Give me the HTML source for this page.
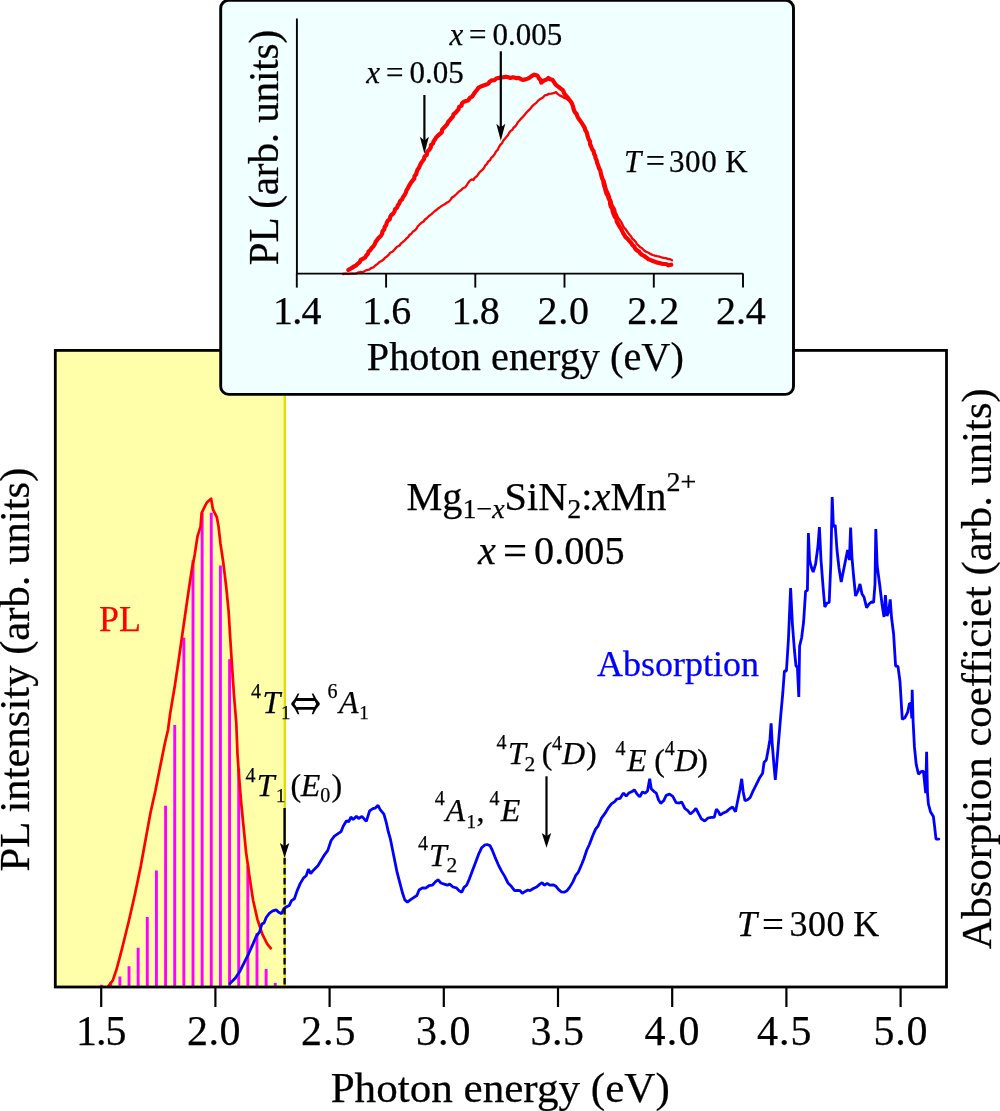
<!DOCTYPE html>
<html lang="en"><head><meta charset="utf-8"><title>PL and absorption spectra of Mg1-xSiN2:xMn2+</title>
<style>
html,body{margin:0;padding:0;background:#fff}
svg{display:block}
text{font-family:'Liberation Serif','Times New Roman',Times,serif;fill:#000;stroke:#000;stroke-width:0.25px}
.r{fill:#f00;stroke:#f00}.b{fill:#00f;stroke:#00f}
.i{font-style:italic}
</style></head><body>
<svg width="1000" height="1111" viewBox="0 0 1000 1111">
<rect width="1000" height="1111" fill="#fff"/>

<rect x="55" y="350" width="229.5" height="637" fill="#ffffaa"/>
<line x1="284.8" y1="351" x2="284.8" y2="987" stroke="#e0e000" stroke-width="2.4"/>
<path d="M101.60,987.0V984.8M110.74,987.0V982.1M119.88,987.0V976.6M129.02,987.0V966.2M138.16,987.0V947.7M147.30,987.0V917.1M156.44,987.0V870.4M165.58,987.0V805.7M174.72,987.0V725.1M183.86,987.0V637.8M193.00,987.0V560.2M202.14,987.0V512.8M211.28,987.0V512.8M220.42,987.0V565.5M229.56,987.0V659.2M238.70,987.0V768.4M247.84,987.0V865.6M256.98,987.0V933.0M266.12,987.0V969.0M275.26,987.0V983.0" stroke="#ff00ff" stroke-width="2.9" fill="none"/>
<polyline points="108.0,986.5 112.8,980.4 116.5,969.5 120.1,956.1 123.8,941.5 128.6,922.0 134.7,895.3 140.8,866.1 145.6,839.4 150.5,812.7 155.4,790.8 160.2,766.5 165.1,742.2 168.0,730.0 170.1,714.0 174.8,686.0 178.3,662.6 183.0,629.8 187.7,597.0 191.9,568.9 194.7,554.9 197.5,536.2 200.5,526.8 201.7,512.8 205.2,505.7 207.1,502.2 211.1,498.7 212.9,509.3 216.9,517.4 218.6,526.8 220.4,543.2 223.2,561.9 226.3,587.7 228.6,611.1 230.3,639.1 232.1,667.2 234.0,695.3 236.3,723.4 237.5,754.3 239.2,778.6 241.2,802.9 243.6,827.2 246.0,851.6 249.4,875.9 253.1,900.2 257.5,919.6 262.3,934.2 267.2,943.9 270.8,948.3" fill="none" stroke="#ff0000" stroke-width="2.7" stroke-linejoin="round" stroke-linecap="round"/>
<polyline points="229.9,983.5 235.4,978.0 239.8,971.4 244.2,962.6 248.6,953.8 253.0,943.9 256.3,936.2 259.6,931.8 261.8,924.1 264.0,923.0 266.2,917.5 269.5,913.1 272.8,910.9 276.1,909.8 278.3,912.0 281.6,913.8 283.8,908.7 287.1,906.5 289.3,905.4 291.5,900.6 294.4,898.8 297.0,891.1 300.3,883.4 303.6,877.9 306.2,875.7 308.4,869.1 310.6,873.5 313.5,870.2 317.9,865.8 321.2,860.3 324.5,854.8 327.8,850.4 331.1,840.5 334.4,836.1 337.7,833.9 341.0,831.7 343.2,826.2 346.5,820.7 348.7,821.8 350.9,817.0 353.1,819.6 356.4,816.3 358.6,818.5 361.9,816.3 366.3,821.4 369.6,810.8 372.9,808.6 375.1,808.2 378.0,805.3 380.2,809.7 383.9,814.1 386.1,821.8 388.3,831.7 390.5,839.4 392.7,850.4 394.9,861.4 397.1,872.4 400.0,883.4 402.6,893.3 404.8,899.9 407.4,902.1 410.3,899.9 413.6,897.7 416.9,895.5 419.1,890.0 422.4,887.8 425.7,888.2 429.0,885.6 432.3,885.2 435.4,881.9 438.0,879.7 440.9,883.0 444.2,884.1 447.5,885.2 449.7,884.1 453.0,887.0 456.3,887.8 459.2,890.7 461.8,892.2 464.0,887.4 466.6,885.2 469.5,878.6 472.8,869.8 476.1,861.0 479.0,853.3 481.6,847.8 484.5,845.2 487.1,844.5 490.0,845.6 492.2,850.0 494.8,856.6 498.1,864.3 501.4,870.9 504.7,876.4 508.0,883.0 511.3,886.3 514.6,890.7 517.9,890.3 520.1,890.7 522.3,893.3 525.2,891.4 527.8,890.0 530.0,890.7 533.3,888.5 536.6,887.0 539.9,884.1 542.1,882.6 544.3,885.2 547.2,883.4 549.8,885.2 553.1,884.8 556.0,886.3 558.6,889.6 561.2,891.8 564.1,892.2 567.0,890.7 569.6,887.4 572.9,881.9 575.8,875.3 578.4,872.0 581.7,864.3 583.9,858.8 586.8,850.0 589.4,844.5 592.7,835.7 595.6,829.1 598.2,825.8 601.5,818.1 604.8,813.7 608.1,808.2 611.4,803.8 614.7,801.6 616.9,799.0 620.2,798.3 623.3,793.1 626.2,796.0 628.8,793.1 632.1,791.6 634.3,789.8 637.2,794.2 639.8,796.8 642.4,792.0 645.3,793.1 647.5,790.9 649.7,778.8 651.2,788.7 654.1,791.6 656.3,793.1 658.5,799.7 660.7,803.4 663.6,800.8 666.2,795.3 669.5,794.2 672.8,796.4 676.1,802.6 679.4,803.0 681.6,801.9 684.9,808.5 687.8,810.7 690.4,814.0 693.0,811.8 695.9,808.5 698.8,814.0 701.4,818.8 704.7,821.0 708.0,818.0 711.3,817.3 714.2,817.3 716.4,809.2 718.6,811.8 720.1,815.1 723.4,812.9 726.7,811.4 730.0,808.5 732.6,807.0 735.5,811.8 737.7,800.8 739.9,789.8 741.7,778.8 743.2,792.0 745.0,800.8 747.6,799.7 750.2,797.5 753.1,790.9 756.4,784.3 759.7,777.7 762.6,773.3 764.1,762.3 766.3,760.1 768.5,748.0 770.0,739.2 771.1,723.4 772.2,743.6 774.0,765.6 775.3,779.9 776.6,765.6 778.4,743.6 780.6,717.2 782.8,693.0 784.4,671.0 786.4,671.0 788.4,640.0 790.6,588.0 792.4,624.0 794.4,650.0 796.0,666.0 797.4,667.0 798.8,697.0 799.6,646.0 801.6,638.0 803.6,622.0 805.6,591.0 807.4,590.6 808.4,533.0 809.6,560.0 811.6,568.0 813.2,572.0 815.6,564.0 818.0,546.0 819.4,527.0 821.0,560.0 823.0,586.0 824.8,607.0 827.0,603.0 829.2,602.4 830.8,564.0 832.2,497.0 833.4,527.0 835.2,525.0 837.0,550.0 839.0,568.0 841.2,582.0 843.6,570.0 846.0,558.0 847.6,550.0 849.4,560.0 850.6,527.6 852.0,558.0 853.6,576.0 855.6,596.0 858.0,591.0 860.0,584.0 862.0,594.0 864.0,597.0 866.6,607.6 869.0,604.0 871.4,602.0 873.6,602.4 875.0,584.0 875.8,529.0 877.2,566.0 879.6,584.0 882.0,604.0 884.0,617.0 885.4,595.0 887.0,616.0 888.6,612.0 890.2,599.4 891.6,618.0 893.6,634.0 895.6,666.0 898.0,666.4 900.0,681.6 901.4,705.0 902.3,719.4 905.0,717.6 907.7,712.2 909.5,703.2 910.9,704.1 911.8,718.5 912.2,689.7 913.1,721.2 914.4,746.4 916.2,764.4 918.5,774.3 921.2,771.6 923.4,771.2 925.7,793.2 926.6,751.8 927.5,793.2 928.4,804.0 930.6,812.1 933.4,816.6 934.7,827.4 936.0,839.1 938.8,839.1" fill="none" stroke="#0000ff" stroke-width="2.8" stroke-linejoin="bevel" stroke-linecap="round"/>
<line x1="284.6" y1="857.9" x2="284.6" y2="987" stroke="#000" stroke-width="2.3" stroke-dasharray="6.5 3.5"/>
<rect x="55.3" y="350.4" width="891.2" height="636.6" fill="none" stroke="#000" stroke-width="2.8"/>
<line x1="101.2" y1="987" x2="101.2" y2="1007" stroke="#000" stroke-width="2.2"/>
<text x="76" y="1045" font-size="42" letter-spacing="-1.0">1.5</text>
<line x1="215.4" y1="987" x2="215.4" y2="1007" stroke="#000" stroke-width="2.2"/>
<text x="187" y="1045" font-size="42" letter-spacing="0.5">2.0</text>
<line x1="329.6" y1="987" x2="329.6" y2="1007" stroke="#000" stroke-width="2.2"/>
<text x="301" y="1045" font-size="42" letter-spacing="1.0">2.5</text>
<line x1="443.8" y1="987" x2="443.8" y2="1007" stroke="#000" stroke-width="2.2"/>
<text x="416" y="1045" font-size="42" letter-spacing="1.0">3.0</text>
<line x1="558.0" y1="987" x2="558.0" y2="1007" stroke="#000" stroke-width="2.2"/>
<text x="530.4" y="1045" font-size="42" letter-spacing="0.5">3.5</text>
<line x1="672.2" y1="987" x2="672.2" y2="1007" stroke="#000" stroke-width="2.2"/>
<text x="644.6" y="1045" font-size="42" letter-spacing="1.2">4.0</text>
<line x1="786.4" y1="987" x2="786.4" y2="1007" stroke="#000" stroke-width="2.2"/>
<text x="757" y="1045" font-size="42" letter-spacing="1.0">4.5</text>
<line x1="900.6" y1="987" x2="900.6" y2="1007" stroke="#000" stroke-width="2.2"/>
<text x="873.6" y="1045" font-size="42" letter-spacing="0.7">5.0</text>
<text x="500.2" y="1102" font-size="43.1" text-anchor="middle">Photon energy (eV)</text>
<text transform="translate(29.4,669.5) rotate(-90)" font-size="42.7" text-anchor="middle">PL intensity (arb. units)</text>
<text transform="translate(991.4,668.8) rotate(-90)" font-size="42.7" text-anchor="middle">Absorption coefficiet (arb. units)</text>
<line x1="284.6" y1="808" x2="284.6" y2="850.3" stroke="#000" stroke-width="2.4"/><path d="M284.6,857.7 L279.90000000000003,842.9000000000001 L284.6,846.2 L289.3,842.9000000000001 Z" fill="#000"/>
<line x1="546.5" y1="776.3" x2="546.5" y2="840.4" stroke="#000" stroke-width="2.2"/><path d="M546.5,847.8 L541.8,833.0 L546.5,836.3 L551.2,833.0 Z" fill="#000"/>
<g><text><tspan x="251" y="697.7" font-size="20">4</tspan><tspan x="262.5" y="713" font-size="32" class="i">T</tspan><tspan x="281" y="719.2" font-size="19">1</tspan></text><text transform="translate(281.6,702.4) scale(1,1.82)" x="0" y="11.6" font-size="48" style="stroke-width:0">⇔</text><text><tspan x="327.4" y="697.7" font-size="20">6</tspan><tspan x="339" y="713" font-size="32" class="i">A</tspan><tspan x="359.2" y="719.2" font-size="19">1</tspan></text></g>
<text><tspan x="245.4" y="781.7" font-size="20">4</tspan><tspan x="256.7" y="796.4" font-size="32" class="i">T</tspan><tspan x="276" y="802.1" font-size="19">1</tspan><tspan x="290.5" y="796.4" font-size="32">(</tspan><tspan x="300.8" y="796.4" font-size="32" class="i">E</tspan><tspan x="320.3" y="802.1" font-size="20">0</tspan><tspan x="331.5" y="796.4" font-size="32">)</tspan></text>
<text><tspan x="496.6" y="748.9" font-size="20">4</tspan><tspan x="508" y="764" font-size="32" class="i">T</tspan><tspan x="524.6" y="770.8" font-size="21.5">2</tspan><tspan x="541.8" y="764" font-size="32">(</tspan><tspan x="552" y="749.5" font-size="20">4</tspan><tspan x="562" y="764" font-size="32" class="i">D</tspan><tspan x="586" y="764" font-size="32">)</tspan></text>
<text><tspan x="615.6" y="754.8" font-size="20">4</tspan><tspan x="627" y="770.6" font-size="32" class="i">E</tspan><tspan x="654.2" y="770.6" font-size="32">(</tspan><tspan x="664.8" y="754.8" font-size="20">4</tspan><tspan x="674.6" y="770.6" font-size="32" class="i">D</tspan><tspan x="697.3" y="770.6" font-size="32">)</tspan></text>
<text><tspan x="434.8" y="805" font-size="20">4</tspan><tspan x="445.5" y="821.2" font-size="32" class="i">A</tspan><tspan x="466.5" y="827.8" font-size="19">1</tspan><tspan x="476.6" y="821.2" font-size="32">,</tspan><tspan x="489.6" y="805" font-size="20">4</tspan><tspan x="500.8" y="821.2" font-size="32" class="i">E</tspan></text>
<text><tspan x="418" y="849.8" font-size="20">4</tspan><tspan x="429" y="866" font-size="32" class="i">T</tspan><tspan x="446.4" y="872.4" font-size="21.5">2</tspan></text>
<text x="99.1" y="631" font-size="36" class="r">PL</text>
<text x="597" y="675.6" font-size="36" class="b">Absorption</text>
<text><tspan x="737" y="936.3" font-size="36" class="i">T</tspan><tspan x="762" y="936.6999999999999" font-size="38.9">=</tspan><tspan x="789.6" y="936.3" font-size="36" letter-spacing="0.5">300</tspan><tspan x="853.2" y="936.3" font-size="36">K</tspan></text>
<text x="406.4" y="510.2" font-size="40.3">Mg<tspan font-size="28" dy="7.4">1−<tspan class="i">x</tspan></tspan><tspan dy="-7.4">SiN</tspan><tspan font-size="28" dy="7.4">2</tspan><tspan dy="-7.4">:</tspan><tspan class="i">x</tspan>Mn<tspan font-size="28" dy="-18.8">2+</tspan></text>
<text><tspan x="478" y="564" font-size="40.3" class="i">x</tspan><tspan x="503" y="564.4" font-size="42.7">=</tspan><tspan x="534" y="564" font-size="40.3">0.005</tspan></text>
<rect x="220.7" y="0.3" width="572.8" height="394.1" rx="8" ry="8" fill="#f0ffff" stroke="#000" stroke-width="2.9"/>
<polyline points="343.0,274.0 345.6,273.7 348.2,273.8 350.7,273.6 353.3,273.7 355.9,273.6 358.0,272.6 360.1,272.0 362.5,272.2 364.5,271.2 366.6,270.1 369.1,269.6 371.0,268.2 373.3,267.4 375.3,265.5 377.6,263.9 379.5,262.0 381.9,260.7 383.8,259.3 385.3,257.6 387.2,256.2 388.9,254.6 390.2,252.7 392.4,251.7 394.0,250.1 395.5,248.4 397.1,246.7 399.3,245.7 400.8,243.7 402.7,242.2 404.6,240.5 406.2,238.7 408.1,237.1 409.5,235.0 411.4,233.6 412.9,231.6 415.0,230.2 416.6,228.4 417.9,226.2 419.6,224.5 421.4,222.8 423.6,221.5 425.0,219.5 427.2,217.8 429.2,215.8 431.5,214.1 433.2,212.5 434.9,211.0 436.8,209.7 438.5,208.2 440.4,206.9 442.4,205.4 444.7,204.2 446.8,202.8 449.0,201.6 450.6,199.6 452.0,197.5 454.2,196.2 456.0,194.5 457.7,192.8 459.3,191.2 461.3,190.0 462.9,188.2 465.2,187.3 466.7,185.2 468.1,183.0 469.6,180.9 471.7,179.4 473.5,180.0 474.8,177.6 476.8,176.3 478.1,174.4 479.4,172.5 481.1,170.9 482.8,169.4 484.3,167.6 485.2,165.3 487.0,163.9 488.0,161.7 490.0,160.3 491.2,157.9 493.2,156.1 494.8,153.9 496.0,151.5 497.9,149.6 498.9,147.1 500.3,144.8 502.1,143.1 503.2,140.8 504.7,138.9 506.3,137.1 507.9,135.2 509.1,133.0 510.4,131.1 512.4,129.8 513.5,127.7 515.4,126.3 516.7,124.4 517.8,122.3 519.5,120.5 521.2,118.6 522.9,116.8 524.5,114.9 526.3,112.8 528.2,110.8 530.2,108.9 531.8,106.6 533.9,104.6 536.3,102.9 538.1,100.6 540.4,98.9 542.9,97.5 544.8,95.4 547.0,94.9 549.0,93.9 551.3,93.7 553.7,93.2 555.9,92.1 557.6,93.9 559.3,95.2 561.2,96.1 563.7,97.6 566.4,98.6 568.5,100.3 570.8,101.7 571.6,104.3 572.7,106.8 574.3,109.0 575.4,111.4 576.3,114.2 577.6,116.8 579.6,119.0 580.9,121.2 582.2,123.5 583.8,125.5 584.7,127.7 585.6,129.9 586.4,132.0 587.1,134.3 588.2,136.3 589.0,139.0 589.5,141.7 591.0,144.1 591.4,146.8 592.1,149.5 593.3,151.5 594.3,153.6 594.6,156.0 596.0,158.0 596.9,160.1 597.5,162.6 598.2,165.2 599.6,167.5 600.3,170.0 601.1,172.4 601.6,174.9 602.8,177.0 603.3,179.5 604.7,181.5 605.4,183.8 606.0,186.5 606.7,189.2 607.9,191.7 609.0,194.2 609.9,196.8 610.4,199.1 611.6,201.1 611.9,203.5 612.8,205.7 614.2,207.6 615.2,210.0 615.8,212.7 617.0,215.0 617.9,217.5 619.8,219.9 621.4,222.3 622.7,224.9 623.7,227.3 625.6,229.1 627.0,231.3 628.4,233.2 629.8,235.0 631.3,236.7 632.3,238.8 634.3,240.2 635.8,241.9 636.9,244.0 638.5,245.5 640.1,247.1 642.0,248.3 643.9,250.2 646.1,251.7 648.6,252.8 650.6,254.1 652.7,255.0 654.8,255.7 657.1,256.2 659.3,256.6 661.5,257.3 663.7,257.8 665.8,258.1 667.9,259.0 670.1,259.2 672.1,260.2" fill="none" stroke="#ff0000" stroke-width="2.3" stroke-linejoin="round" stroke-linecap="round"/>
<polyline points="348.4,269.9 350.4,268.8 352.3,267.6 354.2,266.4 356.2,265.3 357.8,263.6 359.7,262.2 360.7,259.9 362.8,258.8 365.0,257.7 366.2,255.6 367.8,254.0 368.5,251.6 370.3,250.1 371.5,248.1 373.2,246.5 374.7,244.4 375.6,241.9 377.2,239.9 378.7,237.8 380.8,236.0 382.1,233.8 382.5,231.3 384.3,229.4 384.7,226.9 386.2,225.0 386.8,222.6 387.8,220.6 389.8,219.2 390.2,216.9 391.3,215.0 393.3,213.5 394.5,211.5 395.1,209.1 397.1,207.6 397.9,205.3 399.3,203.4 400.1,201.0 402.1,199.3 403.1,197.0 404.6,195.0 405.8,192.8 406.5,190.3 407.8,188.3 408.9,186.2 410.1,184.2 411.3,182.2 412.7,180.4 414.3,178.6 414.5,176.1 416.2,174.3 416.7,171.9 417.5,169.8 419.0,167.8 419.9,165.5 421.0,163.3 422.4,161.2 423.9,159.2 424.5,156.6 426.8,154.8 427.2,151.8 429.3,149.8 430.8,147.4 431.0,145.0 432.9,143.6 433.6,141.4 434.9,139.6 436.2,137.4 438.0,135.6 439.9,133.9 441.8,132.3 442.0,129.8 443.7,127.9 445.4,126.2 447.1,124.3 448.1,122.0 449.8,120.1 451.3,118.3 452.9,116.6 453.6,114.2 455.5,112.8 457.0,111.0 458.5,109.3 459.2,106.9 461.5,105.7 462.1,103.3 463.8,101.7 466.1,100.9 468.4,100.2 469.9,97.8 472.2,96.5 473.6,94.3 475.2,92.0 477.0,89.8 478.7,87.6 481.5,86.2 484.2,85.2 486.3,84.6 488.3,83.7 489.6,81.7 491.7,80.4 494.4,80.2 496.3,78.5 499.0,77.9 501.6,77.3 503.9,77.1 506.1,76.7 508.2,77.2 510.4,78.0 513.0,77.3 515.7,78.1 518.6,77.9 521.1,79.2 523.2,79.9 525.6,79.4 527.8,78.6 530.0,77.4 531.9,75.8 534.2,74.7 537.4,75.5 538.7,78.0 540.5,80.0 541.3,82.6 543.1,81.1 544.8,80.2 546.8,79.4 548.3,77.9 549.9,79.2 552.4,79.8 553.8,81.7 555.0,83.8 556.7,85.6 558.7,86.9 560.4,88.4 562.4,89.7 563.6,91.7 564.5,94.0 566.0,95.7 567.7,97.6 569.3,99.7 570.9,101.7 572.2,104.1 573.1,106.6 573.6,109.3 574.6,111.8 576.6,114.0 577.6,116.8 579.1,119.3 580.6,121.4 582.1,123.5 583.4,125.8 584.7,127.7 585.2,130.0 586.5,132.0 587.2,134.2 587.7,136.5 588.6,139.1 590.0,141.5 590.1,144.4 591.3,146.9 592.2,149.4 593.7,151.3 594.0,153.7 595.2,155.8 595.5,158.1 596.6,160.2 597.1,162.9 598.2,165.4 598.9,168.1 600.3,170.5 600.8,173.2 601.4,175.7 602.1,178.2 603.3,180.6 603.5,183.3 604.2,185.8 605.1,188.3 605.6,191.0 606.5,193.6 607.9,196.0 608.7,198.6 610.0,201.1 610.1,203.9 610.8,206.5 612.2,208.9 612.8,211.6 613.6,214.2 614.7,216.7 616.4,218.8 616.8,221.6 618.1,223.9 619.5,226.5 621.1,228.9 622.4,231.5 623.3,233.5 624.6,235.3 625.6,237.2 627.4,238.7 629.3,240.9 631.3,243.2 632.5,245.2 634.3,246.7 635.3,248.8 637.0,250.4 639.1,251.6 640.4,253.6 642.2,255.0 644.5,256.2 646.6,257.7 648.6,259.3 650.8,260.1 652.9,261.0 655.1,261.8 657.1,262.6 659.3,262.9 661.4,263.6 663.6,263.9 666.2,264.0 668.5,265.3 671.2,264.7" fill="none" stroke="#ff0000" stroke-width="4.2" stroke-linejoin="round" stroke-linecap="round"/>
<path d="M296.9,18.6V273.6H743.2" fill="none" stroke="#000" stroke-width="1.9"/>
<line x1="296.8" y1="273.6" x2="296.8" y2="287.6" stroke="#000" stroke-width="1.9"/>
<text x="273.1" y="324" font-size="40" letter-spacing="-0.75">1.4</text>
<line x1="386.1" y1="273.6" x2="386.1" y2="287.6" stroke="#000" stroke-width="1.9"/>
<text x="362.3" y="324" font-size="40" letter-spacing="-0.5">1.6</text>
<line x1="475.3" y1="273.6" x2="475.3" y2="287.6" stroke="#000" stroke-width="1.9"/>
<text x="451.5" y="324" font-size="40" letter-spacing="-0.9">1.8</text>
<line x1="564.5" y1="273.6" x2="564.5" y2="287.6" stroke="#000" stroke-width="1.9"/>
<text x="537.5" y="324" font-size="40" letter-spacing="0.8">2.0</text>
<line x1="653.8" y1="273.6" x2="653.8" y2="287.6" stroke="#000" stroke-width="1.9"/>
<text x="627.2" y="324" font-size="40" letter-spacing="1.0">2.2</text>
<line x1="743.0" y1="273.6" x2="743.0" y2="287.6" stroke="#000" stroke-width="1.9"/>
<text x="716.1" y="324" font-size="40" letter-spacing="-0.2">2.4</text>
<text x="525.3" y="369.5" font-size="40.3" text-anchor="middle">Photon energy (eV)</text>
<text transform="translate(278.3,147.6) rotate(-90)" font-size="41.2" letter-spacing="-0.15" text-anchor="middle">PL (arb. units)</text>
<line x1="424.4" y1="95" x2="424.4" y2="145.2" stroke="#000" stroke-width="2.2"/><path d="M424.4,153.7 L419.9,136.79999999999998 L424.4,140.5 L428.9,136.79999999999998 Z" fill="#000"/>
<line x1="500.8" y1="51.3" x2="500.8" y2="132.2" stroke="#000" stroke-width="2.2"/><path d="M500.8,140.7 L496.3,123.79999999999998 L500.8,127.5 L505.3,123.79999999999998 Z" fill="#000"/>
<text><tspan x="366.3" y="82.8" font-size="31" class="i">x</tspan><tspan x="386" y="82.8" font-size="31">=</tspan><tspan x="409.5" y="82.8" font-size="31">0.05</tspan></text>
<text><tspan x="449.5" y="44.6" font-size="31" class="i">x</tspan><tspan x="469" y="44.6" font-size="31">=</tspan><tspan x="492.5" y="44.6" font-size="31">0.005</tspan></text>
<text><tspan x="624" y="172" font-size="31" class="i">T</tspan><tspan x="645.8" y="172.4" font-size="34.1">=</tspan><tspan x="669" y="172" font-size="31" letter-spacing="0.6">300</tspan><tspan x="725.2" y="172" font-size="31">K</tspan></text>
</svg></body></html>
